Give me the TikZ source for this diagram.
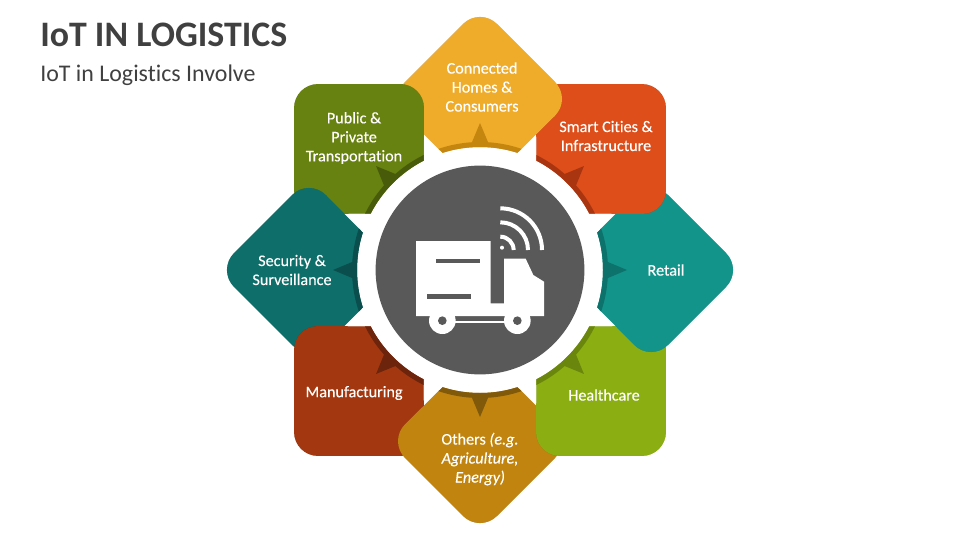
\documentclass[tikz,border=0pt]{standalone}
\usepackage{fontspec}
\setmainfont[Ligatures=NoCommon]{Carlito}
\newfontfamily\labelfont[FakeBold=0.25,Ligatures=NoCommon]{Carlito}
\definecolor{titlegray}{HTML}{404040}
\definecolor{hubgray}{HTML}{595959}
\definecolor{homes}{HTML}{EFAC2A}
\definecolor{homesdark}{HTML}{C4860E}
\definecolor{cities}{HTML}{DD4E1A}
\definecolor{citiesdark}{HTML}{A93510}
\definecolor{retail}{HTML}{12948A}
\definecolor{retaildark}{HTML}{0D726B}
\definecolor{health}{HTML}{8BAF12}
\definecolor{healthdark}{HTML}{6B860D}
\definecolor{others}{HTML}{C1840F}
\definecolor{othersdark}{HTML}{80590A}
\definecolor{manuf}{HTML}{A33810}
\definecolor{manufdark}{HTML}{6C240D}
\definecolor{security}{HTML}{0E6E6A}
\definecolor{securitydark}{HTML}{0A4F4D}
\definecolor{public}{HTML}{688211}
\definecolor{publicdark}{HTML}{485B0A}
\newcommand{\petaloutline}{
  (-17.7:3.075) [rounded corners=0.6cm] -- (4.275,-2.3) -- (6.575,0) -- (4.275,2.3)
  [sharp corners] -- (17.7:3.075) arc (17.7:-17.7:3.075) -- cycle
}
\newcommand{\petal}[3]{% angle, fill, dark
  \begin{scope}[shift={(0.04,-0.04)}]
    \fill[black, opacity=0.2, shift={(center)}, rotate=#1] \petaloutline;
  \end{scope}
  \begin{scope}[shift={(center)}, rotate=#1]
    \fill[#2] \petaloutline;
    \begin{scope}
      \clip \petaloutline;
      \draw[#3, line width=0.125cm] (0,0) circle (3.1375);
    \end{scope}
    \fill[#3] (3.15,0.22) -- (3.675,0) -- (3.15,-0.22) -- cycle;
  \end{scope}
}
\tikzset{
  petaltext/.style={text=white, align=center, font=\labelfont\fontsize{11.5}{13.5}\selectfont},
}
\begin{document}
\begin{tikzpicture}
  % General frame is (0,0) to (24, 13.5)
  \useasboundingbox (0,0) rectangle (24,13.5);
  \coordinate (center) at (12,6.75);

  % title
  \node[anchor=west, inner sep=0pt, text=titlegray, font=\fontsize{25.5}{30}\selectfont\bfseries] (title) at (1,12.63) {IoT IN LOGISTICS};
  \node[anchor=west, inner sep=0pt, text=titlegray, font=\fontsize{17}{20}\selectfont] (subtitle) at (1,11.625) {IoT in Logistics Involve};

  % petals, lowest first
  \foreach \a/\c/\d in {135/public/publicdark, 180/security/securitydark, 225/manuf/manufdark,
                        270/others/othersdark, 315/health/healthdark, 0/retail/retaildark,
                        45/cities/citiesdark, 90/homes/homesdark}{
    \petal{\a}{\c}{\d}
  }
  % public again, over the homes petal only
  \begin{scope}
    \clip (9.5,9.5) rectangle (11.5,11.6);
    \petal{135}{public}{publicdark}
  \end{scope}

  % petal labels
  \node[petaltext] (homeslabel) at (12.05,11.325) {Connected\\Homes \&\\Consumers};
  \node[petaltext] (citieslabel) at (15.15,10.1) {Smart Cities \&\\Infrastructure};
  \node[petaltext] (retaillabel) at (16.65,6.75) {Retail};
  \node[petaltext] (healthlabel) at (15.1,3.625) {Healthcare};
  \node[petaltext] (otherslabel) at (12,2.025) {Others \textit{(e.g.}\\\textit{Agriculture,}\\\textit{Energy)}};
  \node[petaltext] (manuflabel) at (8.85,3.675) {Manufacturing};
  \node[petaltext] (securitylabel) at (7.3,6.75) {Security \&\\Surveillance};
  \node[petaltext] (publiclabel) at (8.85,10.05) {Public \&\\Private\\Transportation};

  % hub
  \fill[hubgray] (center) circle (2.61);

  % truck
  \fill[white] (10.4,7.475) -- (12.267,7.475) -- (12.267,5.917) -- (12.6,5.917) -- (12.6,7.033)
    -- (13.142,7.033) -- (13.333,6.625) -- (13.6,6.458) -- (13.6,5.6) -- (10.4,5.6) -- cycle;
  \fill[hubgray] (10.9,7.025) rectangle (12,6.917);
  \fill[hubgray] (10.675,6.142) rectangle (11.775,6.033);
  \fill[white] (11.058,5.417) rectangle (12.933,5.483);
  \foreach \x in {11.058,12.933}{
    \fill[white] (\x,5.483) circle (0.333);
    \fill[hubgray] (\x,5.483) circle (0.108);
  }

  % signal
  \coordinate (signal) at (12.508,7.25);
  \foreach \r in {0.333,0.692,1.042}{
    \draw[white, line width=0.1cm] (signal) ++(0,\r) arc (90:0:\r);
  }
  \fill[white] (12.55,7.308) circle (0.05);
\end{tikzpicture}
\end{document}
